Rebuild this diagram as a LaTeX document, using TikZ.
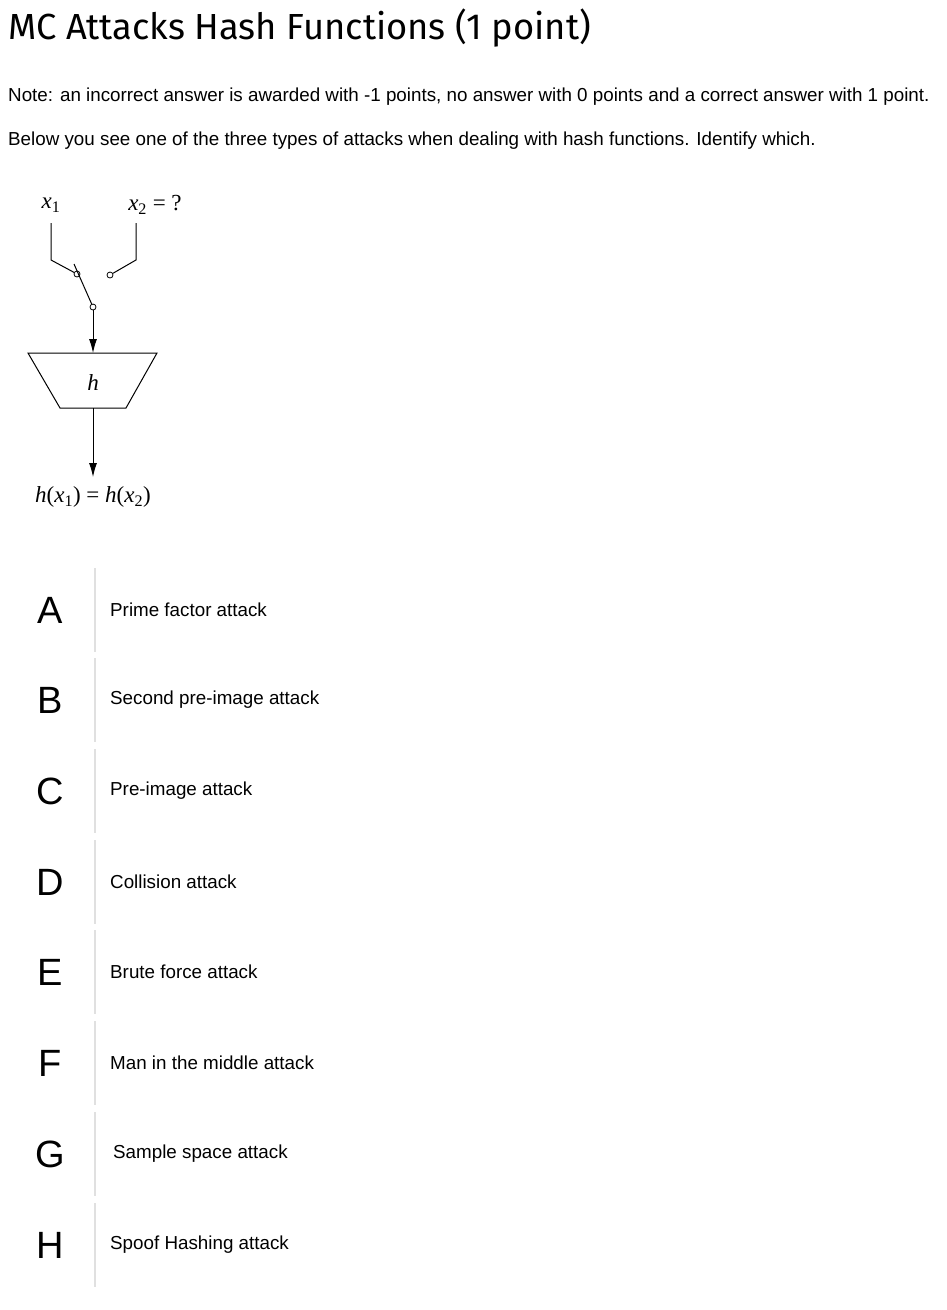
\documentclass[tikz,border=0pt]{standalone}
\usepackage{fontspec}
\usetikzlibrary{arrows.meta}
\setmainfont{Liberation Sans}
\newfontfamily\titlefont{Fira Sans}
\newfontfamily\tms{Liberation Serif}
\begin{document}
\begin{tikzpicture}[x=1pt,y=-1pt,
  body/.style={anchor=west,inner sep=0pt,font=\fontsize{18.8}{22}\selectfont},
  letter/.style={anchor=center,inner sep=0pt,font=\fontsize{38}{42}\selectfont},
  opt/.style={anchor=west,inner sep=0pt,font=\fontsize{18.8}{22}\selectfont},
  sep/.style={draw=black!12,line width=1.2pt},
  wire/.style={line width=1pt},
  pin/.style={circle,draw,line width=0.8pt,inner sep=0pt,minimum size=6pt,fill=white},
  arr/.style={wire,-{Latex[length=14pt,width=8pt]}},
  mth/.style={inner sep=0pt,font=\tms\fontsize{23}{25}\selectfont}]
\useasboundingbox[fill=white] (0,0) rectangle (946,1310);
\node[anchor=west,inner sep=0pt,font=\titlefont\fontsize{36.3}{40}\selectfont] (title) at (8,28) {MC Attacks Hash Functions (1 point)};
\node[body] (note) at (8,97) {Note: an incorrect answer is awarded with -1 points, no answer with 0 points and a correct answer with 1 point.};
\node[body] (below) at (8,141) {Below you see one of the three types of attacks when dealing with hash functions. Identify which.};
% diagram
\node[mth] (x1) at (51,205) {\textit{x}\textsubscript{1}};
\node[mth] (x2) at (155,205) {\textit{x}\textsubscript{2} = ?};
\coordinate (a1) at (51,223); \coordinate (b1) at (51,260);
\coordinate (a2) at (136,223); \coordinate (b2) at (136,260);
\node[pin] (p1) at (77,274) {};
\node[pin] (p2) at (110,275) {};
\node[pin] (p3) at (93,307) {};
\draw[wire] (a1) -- (b1) -- (p1);
\draw[wire] (a2) -- (b2) -- (p2);
\draw[wire] (74,264) -- (p3);
\coordinate (tt) at (93,353);
\draw[wire] (28,353) -- (157,353) -- (126,408) -- (60,408) -- cycle;
\node[mth] (h) at (93,383) {\textit{h}};
\draw[arr] (p3) -- (tt);
\coordinate (tb) at (93,408);
\coordinate (out) at (93,477);
\draw[arr] (tb) -- (out);
\node[mth] (res) at (93,497) {\textit{h}(\textit{x}\textsubscript{1}) = \textit{h}(\textit{x}\textsubscript{2})};
% options
\foreach \L/\T/\y/\xo in {A/Prime factor attack/610/110,B/Second pre-image attack/700/110,C/Pre-image attack/791/110,D/Collision attack/882/110,E/Brute force attack/972/110,F/Man in the middle attack/1063/110,G/Sample space attack/1154/113,H/Spoof Hashing attack/1245/110}{
  \node[letter] (l\L) at (50,\y) {\L};
  \draw[sep] (95,\y-42) -- (95,\y+42);
  \node[opt] (o\L) at (\xo,\y) {\T};
}
\end{tikzpicture}
\end{document}
